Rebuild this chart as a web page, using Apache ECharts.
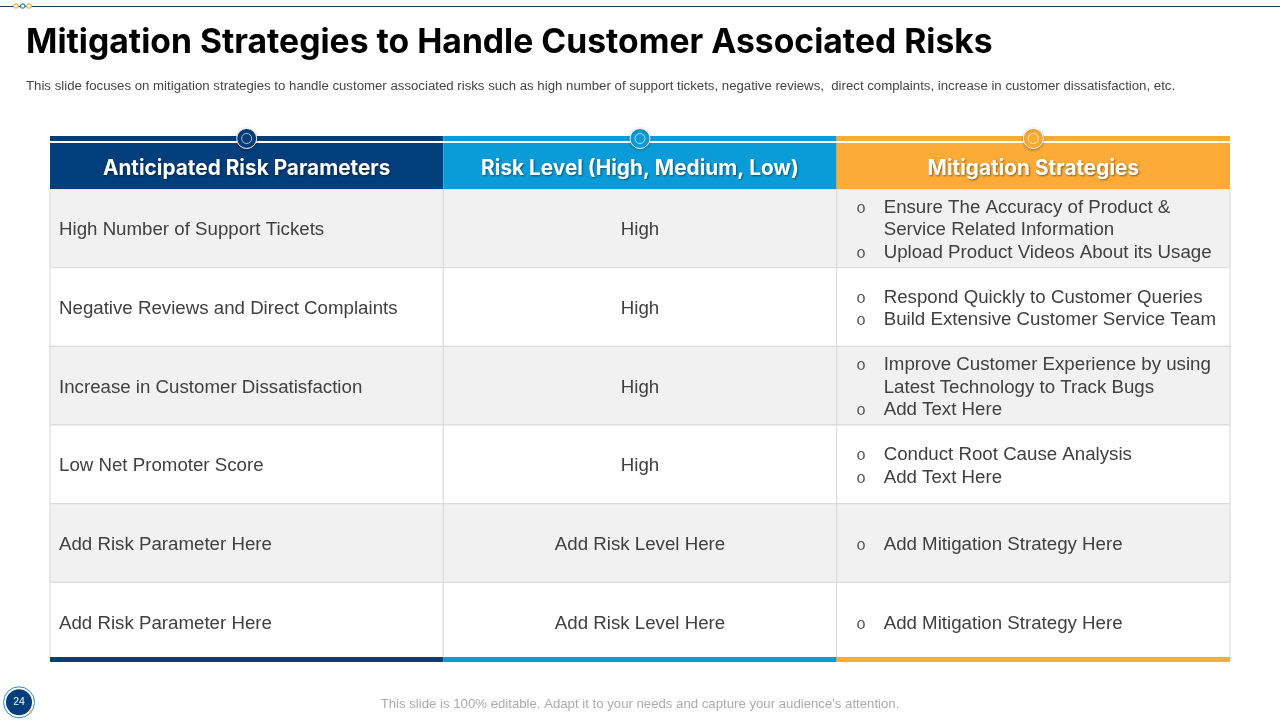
<!DOCTYPE html>
<html><head><meta charset="utf-8">
<style>html,body{margin:0;padding:0;background:#fff}#c{width:1280px;height:720px}</style>
<script src="https://cdn.jsdelivr.net/npm/echarts@6/dist/echarts.min.js"></script>
</head><body><div id="c"></div>
<script>
const titleText = "Mitigation Strategies to Handle Customer Associated Risks";
const subtitleText = "This slide focuses on mitigation strategies to handle customer associated risks such as high number of support tickets, negative reviews,  direct complaints, increase in customer dissatisfaction, etc.";
const footerText = "This slide is 100% editable. Adapt it to your needs and capture your audience's attention.";
const pageNumber = "24";
const headers = ["Anticipated Risk Parameters", "Risk Level (High, Medium, Low)", "Mitigation Strategies"];
const headerColors = ["#033e7c", "#0a9cd9", "#fbab36"];
const parameters = ["High Number of Support Tickets", "Negative Reviews and Direct Complaints", "Increase in Customer Dissatisfaction", "Low Net Promoter Score", "Add Risk Parameter Here", "Add Risk Parameter Here"];
const levels = ["High", "High", "High", "High", "Add Risk Level Here", "Add Risk Level Here"];
const strategies = [
  [["Ensure The Accuracy of Product &", "Service Related Information"], ["Upload Product Videos About its Usage"]],
  [["Respond Quickly to Customer Queries"], ["Build Extensive Customer Service Team"]],
  [["Improve Customer Experience by using", "Latest Technology to Track Bugs"], ["Add Text Here"]],
  [["Conduct Root Cause Analysis"], ["Add Text Here"]],
  [["Add Mitigation Strategy Here"]],
  [["Add Mitigation Strategy Here"]]
];

const BODY = '"Liberation Sans", Arial, sans-serif';
const HEAD = 'Inter, "Open Sans", sans-serif';
const ink = '#404040';
const lineH = 22.6;

function txt(x, y, s, o) {
  return {type:'text', style:Object.assign({x, y, text:s, fill:ink, fontFamily:BODY, fontSize:18.7, textAlign:'left', textVerticalAlign:'middle'}, o||{})};
}

function renderCell(params, api) {
  const col = api.value(0), row = api.value(1);
  const a = api.coord([col, row]), b = api.coord([col + 1, row + 1]);
  const x = a[0], y = a[1], w = b[0] - a[0], h = b[1] - a[1], cy = y + h / 2 + 1.8;
  const kids = [{type:'rect', shape:{x, y, width:w, height:h},
    style:{fill: row % 2 === 0 ? '#f1f1f1' : '#ffffff', stroke:'#d9d9d9', lineWidth:1}}];
  if (col === 0) kids.push(txt(x + 9, cy, parameters[row]));
  if (col === 1) kids.push(txt(x + w / 2, cy, levels[row], {textAlign:'center'}));
  if (col === 2) {
    const bullets = strategies[row];
    const total = bullets.reduce((n, l) => n + l.length, 0);
    let ly = cy - (total - 1) * lineH / 2;
    bullets.forEach(lines => {
      lines.forEach((l, i) => {
        if (i === 0) kids.push(txt(x + 24.5, ly + 1, 'o', {fontFamily:'"Liberation Mono", monospace', fontSize:16, fill:'#555', textAlign:'center'}));
        kids.push(txt(x + 47, ly, l));
        ly += lineH;
      });
    });
  }
  return {type:'group', children:kids};
}

function renderHeader(params, api) {
  const col = api.value(0);
  const a = api.coord([col, 0]), b = api.coord([col + 1, 0]);
  const x = a[0], w = b[0] - a[0], top = a[1], cx = x + w / 2, c = headerColors[col];
  const cy = top - 50.5;
  return {type:'group', children:[
    {type:'rect', shape:{x, y:top - 46, width:w, height:46}, style:{fill:c}},
    {type:'rect', shape:{x, y:top - 53, width:w, height:5}, style:{fill:c}},
    txt(cx, top - 20.5, headers[col], {fill:'#fff', fontFamily:HEAD, fontWeight:'bold', fontSize:20.8, textAlign:'center',
      textShadowColor:'rgba(0,0,0,0.45)', textShadowBlur:2, textShadowOffsetX:1, textShadowOffsetY:1}),
    {type:'circle', shape:{cx, cy, r:10}, style:{fill:c, stroke:'#fff', lineWidth:1, shadowColor:'rgba(0,0,0,0.3)', shadowBlur:3, shadowOffsetY:1}},
    {type:'circle', shape:{cx, cy, r:5}, style:{fill:c, stroke:'rgba(255,255,255,0.65)', lineWidth:1}}
  ]};
}

function renderFoot(params, api) {
  const col = api.value(0);
  const a = api.coord([col, 6]), b = api.coord([col + 1, 6]);
  return {type:'rect', shape:{x:a[0], y:a[1] - 4, width:b[0] - a[0], height:5}, style:{fill:headerColors[col]}};
}

const cells = [];
parameters.forEach((_, r) => headers.forEach((_, c) => cells.push([c, r])));
const cols = headers.map((_, c) => [c]);

const chart = echarts.init(document.getElementById('c'), null, {renderer:'canvas'});
chart.setOption({
  animation:false,
  backgroundColor:'#fff',
  grid:{left:50, top:189, width:1180, height:472},
  xAxis:{type:'value', min:0, max:headers.length, show:false},
  yAxis:{type:'value', min:0, max:parameters.length, inverse:true, show:false},
  graphic:[
    {type:'rect', shape:{x:0, y:6, width:1280, height:1}, style:{fill:'#1f3a5c'}},
    {type:'circle', shape:{cx:16, cy:6, r:2.2}, style:{fill:'#fff', stroke:'#eeb04f', lineWidth:1.2}},
    {type:'circle', shape:{cx:22.7, cy:6, r:2.2}, style:{fill:'#fff', stroke:'#2b8cc4', lineWidth:1.2}},
    {type:'circle', shape:{cx:29, cy:6, r:2.2}, style:{fill:'#fff', stroke:'#eeb04f', lineWidth:1.2}},
    {type:'text', style:{x:26, y:43, text:titleText, fill:'#000', fontFamily:HEAD, fontWeight:'bold', fontSize:33.7, textVerticalAlign:'middle'}},
    {type:'text', style:{x:26, y:86, text:subtitleText, fill:'#444', fontFamily:BODY, fontSize:13.23, textVerticalAlign:'middle'}},
    {type:'text', style:{x:640, y:704, text:footerText, fill:'#ababab', fontFamily:BODY, fontSize:13.2, textAlign:'center', textVerticalAlign:'middle'}},
    {type:'circle', shape:{cx:19, cy:702.3, r:15.5}, style:{fill:'#fff', stroke:'#2b8cc4', lineWidth:1}},
    {type:'circle', shape:{cx:19, cy:702.3, r:13}, style:{fill:'#033e7c'}},
    {type:'circle', shape:{cx:30.7, cy:711.7, r:1.5}, style:{fill:'#f3b75f'}},
    {type:'text', style:{x:19, y:702.3, text:pageNumber, fill:'#fff', fontFamily:BODY, fontSize:10.5, textAlign:'center', textVerticalAlign:'middle'}}
  ],
  series:[
    {type:'custom', coordinateSystem:'cartesian2d', data:cells, renderItem:renderCell, clip:false, silent:true, z:2},
    {type:'custom', coordinateSystem:'cartesian2d', data:cols, encode:{x:0}, renderItem:renderHeader, clip:false, silent:true, z:3},
    {type:'custom', coordinateSystem:'cartesian2d', data:cols, encode:{x:0}, renderItem:renderFoot, clip:false, silent:true, z:3}
  ]
});
</script></body></html>
